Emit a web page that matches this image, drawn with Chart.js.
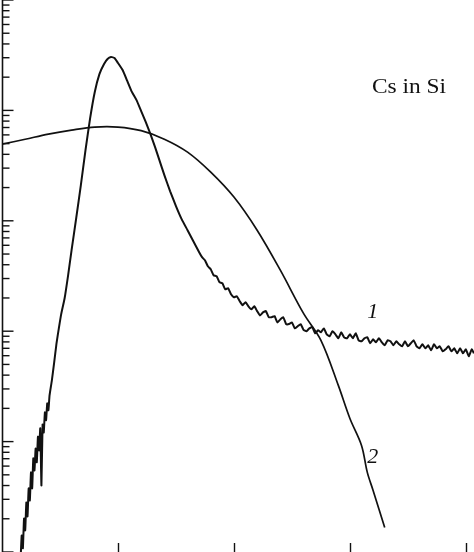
<!DOCTYPE html>
<html lang="en">
<head>
  <meta charset="UTF-8" />
  <title>Cs in Si depth profiles</title>
  <script src="https://cdn.jsdelivr.net/npm/chart.js@4.4.1/dist/chart.umd.min.js"></script>
  <style>
    html, body { margin: 0; padding: 0; background: #fff; }
    #wrap { width: 474px; height: 552px; }
  </style>
</head>
<body>
  <div id="wrap"><canvas id="profile" width="474" height="552"></canvas></div>

  <script>
    // depth in nm, concentration in cm^-3
    const depth1 = [16, 17, 18, 19, 20, 21, 22, 23, 24, 25, 26, 27, 28, 29, 30, 31, 32, 33, 34, 35,
      36, 37, 38, 39, 40, 41, 43, 45, 47, 49, 51, 54, 57, 60, 64, 68, 72, 76, 80, 84,
      88, 91, 94, 97, 100, 104, 108, 112, 116, 120, 124, 128, 132, 136, 140, 145, 150, 155, 160, 165,
      170, 172.5, 175, 177.5, 180, 182.5, 185, 187.5, 190, 192.5, 195, 197.5, 200, 202.5, 205, 207.5, 210, 212.5, 215, 217.5,
      220, 222.5, 225, 227.5, 230, 232.5, 235, 237.5, 240, 242.5, 245, 247.5, 250, 252.5, 255, 257.5, 260, 262.5, 265, 267.5,
      270, 272.5, 275, 277.5, 280, 282.5, 285, 287.5, 290, 292.5, 295, 297.5, 300, 302.5, 305, 307.5, 310, 312.5, 315, 317.5,
      320, 322.5, 325, 327.5, 330, 332.5, 335, 337.5, 340, 342.5, 345, 347.5, 350, 352.5, 355, 357.5, 360, 362.5, 365, 367.5,
      370, 372.5, 375, 377.5, 380, 382.5, 385, 387.5, 390, 392.5, 395, 397.5, 400, 402.5, 405, 407];
    const conc1 = [8.4e15, 1.41e16, 1.08e16, 2.01e16, 1.57e16, 2.81e16, 2.10e16, 3.77e16, 2.93e16, 5.26e16, 3.77e16, 7.05e16, 5.48e16, 8.67e16, 6.49e16, 1.11e17, 8.32e16, 1.32e17, 4.01e16, 1.43e17,
      1.21e17, 1.84e17, 1.56e17, 2.22e17, 1.92e17, 2.62e17, 3.59e17, 5.22e17, 7.77e17, 1.06e18, 1.42e18, 1.99e18, 3.21e18, 5.42e18, 1.06e19, 2.10e19, 4.36e19, 8.51e19, 1.47e20, 2.13e20,
      2.63e20, 2.92e20, 3.04e20, 2.98e20, 2.69e20, 2.32e20, 1.85e20, 1.47e20, 1.24e20, 9.87e19, 7.84e19, 6.10e19, 4.65e19, 3.47e19, 2.59e19, 1.85e19, 1.36e19, 1.03e19, 8.22e18, 6.53e18,
      5.19e18, 4.68e18, 4.39e18, 3.88e18, 3.64e18, 3.21e18, 3.15e18, 2.78e18, 2.72e18, 2.40e18, 2.45e18, 2.16e18, 2.03e18, 2.07e18, 1.87e18, 1.72e18, 1.83e18, 1.68e18, 1.58e18, 1.68e18,
      1.52e18, 1.39e18, 1.48e18, 1.52e18, 1.34e18, 1.34e18, 1.37e18, 1.20e18, 1.28e18, 1.34e18, 1.16e18, 1.16e18, 1.20e18, 1.06e18, 1.11e18, 1.16e18, 1.03e18, 9.98e17, 1.06e18, 1.09e18,
      9.57e17, 1.02e18, 9.77e17, 1.06e18, 9.37e17, 8.99e17, 9.98e17, 9.37e17, 8.62e17, 9.77e17, 8.80e17, 8.62e17, 9.37e17, 8.62e17, 9.57e17, 8.27e17, 8.10e17, 8.62e17, 8.80e17, 7.77e17,
      8.44e17, 7.93e17, 8.62e17, 7.93e17, 7.45e17, 8.27e17, 8.10e17, 7.45e17, 8.10e17, 7.61e17, 7.30e17, 8.10e17, 7.30e17, 7.77e17, 8.27e17, 7.30e17, 7.00e17, 7.61e17, 7.00e17, 7.45e17,
      6.71e17, 7.61e17, 7.00e17, 7.30e17, 6.57e17, 6.85e17, 7.30e17, 6.57e17, 7.00e17, 6.30e17, 7.00e17, 6.30e17, 6.85e17, 5.92e17, 6.85e17, 6.30e17];

    const depth2 = [0, 20, 40, 60, 80, 100, 120, 140, 160, 180, 200, 220, 240, 260, 275, 290, 300, 310, 315, 320, 330];
    const conc2 = [4.94e19, 5.48e19, 6.10e19, 6.63e19, 7.06e19, 7.06e19, 6.55e19, 5.49e19, 4.19e19, 2.76e19, 1.64e19,
      8.22e18, 3.57e18, 1.45e18, 8.27e17, 3.23e17, 1.62e17, 9.24e16, 5.26e16, 3.61e16, 1.67e16];

    // axes
    const xTicks = [100, 200, 300, 400];
    const yDecades = [1e16, 1e17, 1e18, 1e19, 1e20, 1e21];
    const yMinorSteps = [2, 3, 4, 5, 6, 7, 8, 9];

    // text on the plot
    const notes = [
      { text: 'Cs in Si', x: 319, y: 1.44e20, font: '20px "Liberation Serif"', stretch: 1.17 },
      { text: '1', x: 315, y: 1.31e18, font: 'italic 22px "Liberation Serif"', stretch: 1 },
      { text: '2', x: 315, y: 6.34e16, font: 'italic 22px "Liberation Serif"', stretch: 1 }
    ];

    const frame = {
      id: 'frame',
      afterDraw(chart) {
        const { ctx, chartArea } = chart;
        const xs = chart.scales.x, ys = chart.scales.y;
        ctx.save();
        ctx.strokeStyle = '#111';
        ctx.lineWidth = 1.6;
        const ax = chartArea.left + 0.5;
        ctx.beginPath();
        ctx.moveTo(ax, chartArea.top);
        ctx.lineTo(ax, chartArea.bottom);
        ctx.stroke();

        ctx.lineWidth = 1.4;
        yDecades.forEach(d => {
          const ticks = [[d, 11]];
          if (d < ys.max) yMinorSteps.forEach(m => ticks.push([d * m, 7]));
          ticks.forEach(([v, len]) => {
            const py = ys.getPixelForValue(v);
            ctx.beginPath();
            ctx.moveTo(ax, py);
            ctx.lineTo(ax + len, py);
            ctx.stroke();
          });
        });

        xTicks.forEach(v => {
          const px = Math.round(xs.getPixelForValue(v)) + 0.5;
          ctx.beginPath();
          ctx.moveTo(px, chartArea.bottom);
          ctx.lineTo(px, chartArea.bottom - 9);
          ctx.stroke();
        });

        ctx.fillStyle = '#111';
        ctx.textBaseline = 'alphabetic';
        notes.forEach(n => {
          ctx.save();
          ctx.font = n.font;
          ctx.translate(xs.getPixelForValue(n.x), ys.getPixelForValue(n.y));
          ctx.scale(n.stretch, 1);
          ctx.fillText(n.text, 0, 0);
          ctx.restore();
        });
        ctx.restore();
      }
    };

    new Chart(document.getElementById('profile'), {
      type: 'line',
      data: {
        datasets: [
          {
            label: '1',
            data: depth1.map((d, i) => ({ x: d, y: conc1[i] })),
            borderColor: '#111',
            borderWidth: 2,
            pointRadius: 0,
            tension: 0.15
          },
          {
            label: '2',
            data: depth2.map((d, i) => ({ x: d, y: conc2[i] })),
            borderColor: '#111',
            borderWidth: 1.7,
            pointRadius: 0,
            tension: 0.35
          }
        ]
      },
      options: {
        responsive: false,
        animation: false,
        devicePixelRatio: 1,
        layout: { padding: { left: 2, right: 0, top: 0, bottom: 0 } },
        plugins: { legend: { display: false }, tooltip: { enabled: false } },
        scales: {
          x: { type: 'linear', min: 0, max: 407, display: false },
          y: { type: 'logarithmic', min: 1e16, max: 1e21, display: false }
        }
      },
      plugins: [frame]
    });
  </script>
</body>
</html>
